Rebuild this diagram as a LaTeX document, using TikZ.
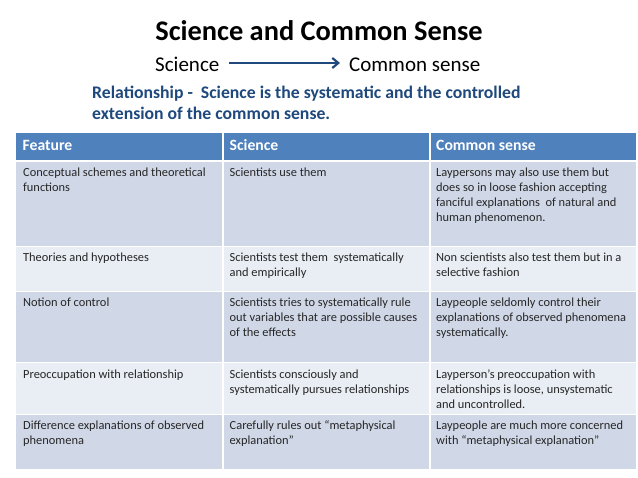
\documentclass[tikz,border=0pt]{standalone}
\usepackage{fontspec}
\usetikzlibrary{arrows.meta}
\setmainfont{Carlito}
\definecolor{hdr}{HTML}{4F81BD}
\definecolor{rowa}{HTML}{D0D8E8}
\definecolor{rowb}{HTML}{E9EDF4}
\definecolor{navy}{HTML}{1F497D}
\definecolor{txt}{HTML}{262626}
\tikzset{
  x=1pt,y=-1pt,
  bodytext/.style={anchor=north west,inner sep=0pt,align=left,text=txt,font=\fontsize{12.4}{15}\selectfont},
  headtext/.style={anchor=base west,inner sep=0pt,text=white,font=\fontsize{15.7}{17}\selectfont\bfseries},
}
\begin{document}
\begin{tikzpicture}
\useasboundingbox (0,0) rectangle (638,478);
\fill[white] (0,0) rectangle (638,478);
% title
\node[anchor=center,inner sep=0pt,font=\fontsize{28.4}{32}\selectfont\bfseries,text=black] (title) at (319,31) {Science and Common Sense};
\node[anchor=west,inner sep=0pt,font=\fontsize{21}{25}\selectfont,text=black] (sci) at (155,64.5) {Science};
\node[anchor=west,inner sep=0pt,font=\fontsize{21}{25}\selectfont,text=black] (cs) at (349,64.5) {Common sense};
\coordinate (as) at (229,63);
\coordinate (ae) at (340,63);
\draw[navy,line width=2.2pt,-{Straight Barb[length=6pt,width=10pt,line width=2.2pt]}] (as) -- (ae);
\node[anchor=north west,inner sep=0pt,align=left,text=navy,font=\fontsize{17.7}{21.2}\selectfont\bfseries] (rel) at (92,85.5) {Relationship -\ \ Science is the systematic and the controlled\\extension of the common sense.};
% header
\fill[hdr] (16,133) rectangle (221.5,160);
\fill[hdr] (223.5,133) rectangle (428.5,160);
\fill[hdr] (430.5,133) rectangle (636,160);
\node[headtext] (h1) at (22.5,151) {Feature};
\node[headtext] (h2) at (229.5,151) {Science};
\node[headtext] (h3) at (436,151) {Common sense};
% row fills
\foreach \ya/\yb/\c in {162/246/rowa,247/291/rowb,292/362/rowa,363/414/rowb,415/469/rowa}{
  \fill[\c] (16,\ya) rectangle (221.5,\yb);
  \fill[\c] (223.5,\ya) rectangle (428.5,\yb);
  \fill[\c] (430.5,\ya) rectangle (636,\yb);
}
% row 1
\node[bodytext] (a1) at (23,167.5) {Conceptual schemes and theoretical\\functions};
\node[bodytext] (b1) at (229.5,167.5) {Scientists use them};
\node[bodytext] (c1) at (436,167.5) {Laypersons may also use them but\\does so in loose fashion accepting\\fanciful explanations\ \ of natural and\\human phenomenon.};
% row 2
\node[bodytext] (a2) at (23,252.5) {Theories and hypotheses};
\node[bodytext] (b2) at (229.5,252.5) {Scientists test them\ \ systematically\\and empirically};
\node[bodytext] (c2) at (436,252.5) {Non scientists also test them but in a\\selective fashion};
% row 3
\node[bodytext] (a3) at (23,297.5) {Notion of control};
\node[bodytext] (b3) at (229.5,297.5) {Scientists tries to systematically rule\\out variables that are possible causes\\of the effects};
\node[bodytext] (c3) at (436,297.5) {Laypeople seldomly control their\\explanations of observed phenomena\\systematically.};
% row 4
\node[bodytext] (a4) at (23,369.5) {Preoccupation with relationship};
\node[bodytext] (b4) at (229.5,369.5) {Scientists consciously and\\systematically pursues relationships};
\node[bodytext] (c4) at (436,369.5) {Layperson’s preoccupation with\\relationships is loose, unsystematic\\and uncontrolled.};
% row 5
\node[bodytext] (a5) at (23,420.5) {Difference explanations of observed\\phenomena};
\node[bodytext] (b5) at (229.5,420.5) {Carefully rules out “metaphysical\\explanation”};
\node[bodytext] (c5) at (436,420.5) {Laypeople are much more concerned\\with “metaphysical explanation”};
\end{tikzpicture}
\end{document}
